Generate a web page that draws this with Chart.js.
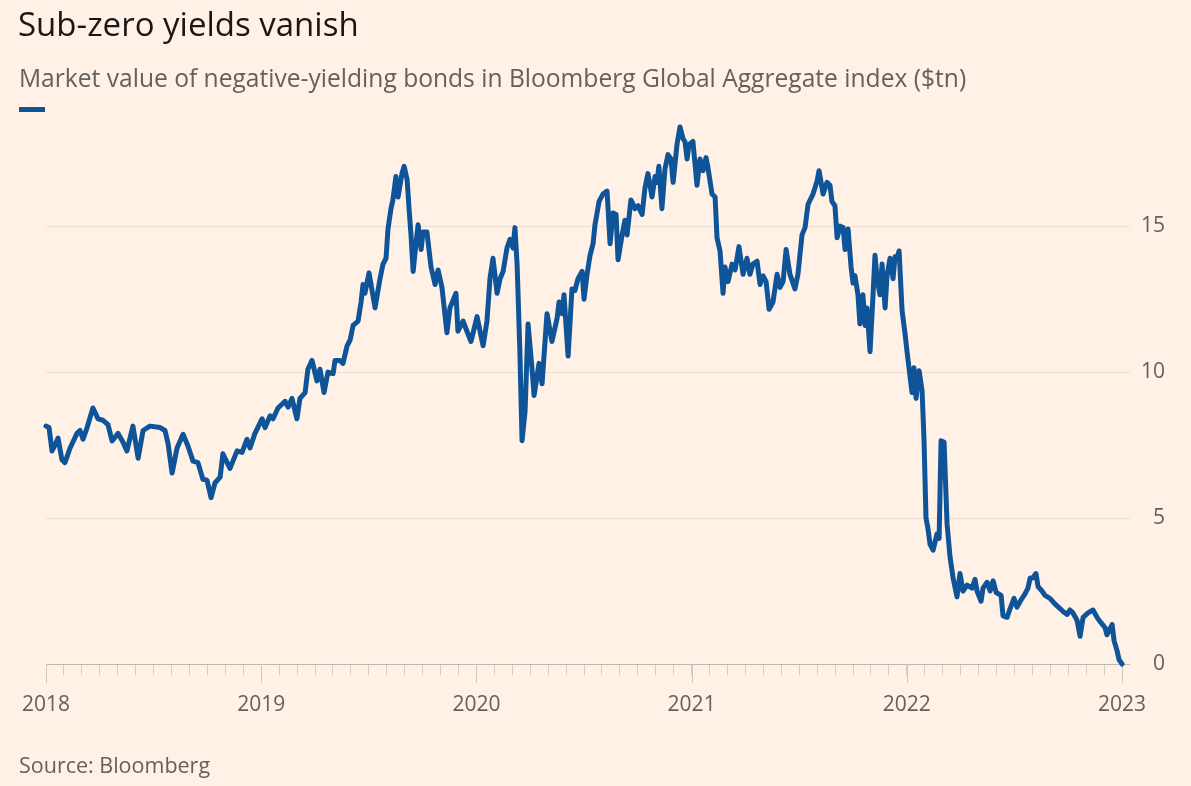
<!DOCTYPE html>
<html>
<head>
<meta charset="utf-8">
<title>Sub-zero yields vanish</title>
<script src="https://cdn.jsdelivr.net/npm/chart.js@4.4.1/dist/chart.umd.min.js"></script>
<style>
    html, body { margin: 0; padding: 0; background: #fff1e5; }
    canvas { display: block; }
</style>
</head>
<body>
<canvas id="bondsChart" width="1191" height="786"></canvas>
<script>
// chart text
const chartTitle = 'Sub-zero yields vanish';
const chartSubtitle = 'Market value of negative-yielding bonds in Bloomberg Global Aggregate index ($tn)';
const chartSource = 'Source: Bloomberg';

// axis ticks
const yearTicks = [2018, 2019, 2020, 2021, 2022, 2023];
const valueTicks = [0, 5, 10, 15];

// dates as decimal years
const dates = [
    2018.000, 2018.014, 2018.028, 2018.042, 2018.056, 2018.074, 2018.088, 2018.112, 2018.144, 2018.158,
    2018.172, 2018.191, 2018.218, 2018.242, 2018.265, 2018.288, 2018.307, 2018.335, 2018.358, 2018.376,
    2018.404, 2018.428, 2018.451, 2018.483, 2018.530, 2018.553, 2018.567, 2018.586, 2018.609, 2018.637,
    2018.660, 2018.683, 2018.706, 2018.729, 2018.748, 2018.767, 2018.785, 2018.809, 2018.822, 2018.855,
    2018.888, 2018.911, 2018.934, 2018.948, 2018.971, 2019.004, 2019.018, 2019.041, 2019.055, 2019.078,
    2019.111, 2019.125, 2019.143, 2019.166, 2019.180, 2019.204, 2019.217, 2019.236, 2019.259, 2019.273,
    2019.292, 2019.310, 2019.334, 2019.343, 2019.366, 2019.380, 2019.399, 2019.413, 2019.427, 2019.450,
    2019.464, 2019.473, 2019.482, 2019.501, 2019.529, 2019.552, 2019.566, 2019.580, 2019.589, 2019.603,
    2019.612, 2019.626, 2019.636, 2019.654, 2019.664, 2019.678, 2019.687, 2019.696, 2019.706, 2019.719,
    2019.729, 2019.743, 2019.752, 2019.770, 2019.789, 2019.808, 2019.822, 2019.840, 2019.863, 2019.877,
    2019.905, 2019.914, 2019.938, 2019.956, 2019.975, 2020.003, 2020.031, 2020.049, 2020.063, 2020.077,
    2020.096, 2020.110, 2020.124, 2020.142, 2020.156, 2020.170, 2020.179, 2020.189, 2020.202, 2020.212,
    2020.226, 2020.240, 2020.258, 2020.268, 2020.291, 2020.305, 2020.328, 2020.351, 2020.375, 2020.384,
    2020.398, 2020.407, 2020.426, 2020.444, 2020.458, 2020.472, 2020.491, 2020.500, 2020.514, 2020.528,
    2020.542, 2020.551, 2020.570, 2020.588, 2020.607, 2020.621, 2020.635, 2020.649, 2020.658, 2020.677,
    2020.690, 2020.700, 2020.718, 2020.737, 2020.751, 2020.770, 2020.783, 2020.797, 2020.816, 2020.830,
    2020.839, 2020.848, 2020.862, 2020.876, 2020.890, 2020.904, 2020.914, 2020.932, 2020.946, 2020.960,
    2020.969, 2020.979, 2020.988, 2021.006, 2021.025, 2021.039, 2021.053, 2021.067, 2021.076, 2021.095,
    2021.109, 2021.118, 2021.132, 2021.146, 2021.155, 2021.169, 2021.188, 2021.202, 2021.220, 2021.239,
    2021.257, 2021.271, 2021.285, 2021.304, 2021.318, 2021.332, 2021.346, 2021.360, 2021.378, 2021.397,
    2021.411, 2021.425, 2021.439, 2021.457, 2021.480, 2021.494, 2021.513, 2021.527, 2021.541, 2021.564,
    2021.583, 2021.592, 2021.611, 2021.629, 2021.643, 2021.652, 2021.666, 2021.676, 2021.690, 2021.704,
    2021.713, 2021.727, 2021.741, 2021.750, 2021.759, 2021.773, 2021.782, 2021.796, 2021.806, 2021.815,
    2021.829, 2021.843, 2021.852, 2021.862, 2021.875, 2021.885, 2021.899, 2021.908, 2021.922, 2021.936,
    2021.945, 2021.954, 2021.964, 2021.978, 2021.992, 2022.001, 2022.010, 2022.024, 2022.033, 2022.043,
    2022.057, 2022.071, 2022.080, 2022.089, 2022.098, 2022.108, 2022.122, 2022.140, 2022.150, 2022.159,
    2022.173, 2022.187, 2022.201, 2022.215, 2022.233, 2022.247, 2022.261, 2022.280, 2022.303, 2022.317,
    2022.326, 2022.345, 2022.354, 2022.373, 2022.387, 2022.401, 2022.415, 2022.438, 2022.447, 2022.466,
    2022.480, 2022.498, 2022.512, 2022.531, 2022.549, 2022.563, 2022.573, 2022.586, 2022.600, 2022.610,
    2022.628, 2022.642, 2022.665, 2022.689, 2022.712, 2022.726, 2022.745, 2022.758, 2022.772, 2022.791,
    2022.805, 2022.819, 2022.842, 2022.865, 2022.884, 2022.898, 2022.921, 2022.930, 2022.954, 2022.963,
    2022.977, 2022.986, 2023.000
];

// market value of negative-yielding bonds, $tn
const marketValue = [
    8.15, 8.10, 7.30, 7.50, 7.74, 7.00, 6.90, 7.40, 7.90, 8.00,
    7.70, 8.10, 8.77, 8.40, 8.35, 8.20, 7.64, 7.90, 7.60, 7.30,
    8.15, 7.05, 8.00, 8.15, 8.10, 8.00, 7.56, 6.54, 7.40, 7.87,
    7.46, 6.95, 6.90, 6.33, 6.30, 5.70, 6.20, 6.40, 7.20, 6.70,
    7.30, 7.25, 7.70, 7.40, 7.90, 8.40, 8.10, 8.50, 8.40, 8.77,
    9.00, 8.80, 9.10, 8.40, 9.10, 9.30, 10.10, 10.40, 9.70, 10.10,
    9.30, 10.00, 9.95, 10.40, 10.40, 10.30, 10.90, 11.10, 11.60, 11.75,
    12.40, 13.00, 12.70, 13.40, 12.20, 13.20, 13.70, 13.90, 14.90, 15.60,
    15.90, 16.70, 16.00, 16.80, 17.05, 16.60, 15.60, 14.70, 13.45, 14.40,
    15.05, 14.20, 14.80, 14.80, 13.60, 13.00, 13.50, 12.90, 11.35, 12.20,
    12.70, 11.40, 11.75, 11.40, 11.05, 11.90, 10.90, 11.75, 13.20, 13.90,
    12.70, 13.20, 13.45, 14.25, 14.55, 14.25, 14.95, 13.70, 10.70, 7.65,
    8.65, 11.65, 10.15, 9.20, 10.30, 9.60, 12.00, 11.05, 11.85, 12.40,
    12.00, 12.65, 10.55, 12.85, 12.80, 13.20, 13.45, 12.50, 13.35, 14.00,
    14.40, 15.05, 15.85, 16.10, 16.20, 14.40, 15.45, 15.40, 13.85, 14.70,
    15.20, 14.70, 15.90, 15.60, 15.70, 15.40, 16.30, 16.80, 16.00, 16.70,
    16.50, 17.05, 15.60, 16.95, 17.45, 17.30, 16.50, 17.80, 18.40, 18.00,
    17.90, 17.30, 17.80, 17.90, 16.40, 17.30, 16.90, 17.35, 17.00, 16.10,
    16.00, 14.60, 14.15, 12.70, 13.60, 13.10, 13.70, 13.50, 14.30, 13.35,
    13.90, 13.35, 13.70, 13.80, 13.00, 13.30, 13.10, 12.15, 12.40, 13.35,
    12.90, 13.10, 14.20, 13.35, 12.85, 13.35, 14.70, 14.95, 15.75, 16.10,
    16.55, 16.90, 16.10, 16.50, 16.40, 15.85, 15.70, 14.60, 15.00, 14.95,
    14.20, 14.90, 13.60, 13.05, 13.30, 12.65, 11.65, 12.65, 11.60, 12.20,
    10.70, 12.65, 14.00, 13.20, 12.65, 13.70, 12.20, 13.30, 13.90, 13.20,
    13.95, 13.90, 14.15, 12.10, 11.30, 10.70, 10.15, 9.30, 10.15, 9.10,
    10.05, 9.35, 7.65, 5.00, 4.65, 4.10, 3.90, 4.45, 4.30, 7.65,
    7.60, 4.80, 3.65, 2.95, 2.30, 3.10, 2.50, 2.70, 2.60, 2.90,
    2.50, 2.15, 2.60, 2.80, 2.50, 2.85, 2.45, 2.35, 1.65, 1.60,
    1.90, 2.25, 1.95, 2.20, 2.40, 2.60, 2.95, 2.95, 3.10, 2.65,
    2.50, 2.35, 2.25, 2.05, 1.90, 1.80, 1.70, 1.85, 1.75, 1.50,
    0.95, 1.60, 1.75, 1.85, 1.60, 1.45, 1.25, 1.00, 1.35, 0.80,
    0.45, 0.15, 0.00
];

const FONT = "'Open Sans', 'Noto Sans', sans-serif";
const PAPER = '#fff1e5';
const LINE_BLUE = '#0f5499';
const MUTED = '#66605c';

// monthly minor ticks between the years
const monthTicks = [];
yearTicks.slice(0, -1).forEach(year => {
    for (let m = 0; m < 12; m++) {
        monthTicks.push(year + m / 12);
    }
});
monthTicks.push(yearTicks[yearTicks.length - 1]);

const ftDecor = {
    id: 'ftDecor',
    beforeDraw(chart) {
        const ctx = chart.ctx;
        ctx.save();
        ctx.fillStyle = PAPER;
        ctx.fillRect(0, 0, chart.width, chart.height);
        ctx.restore();
    },
    beforeDatasetsDraw(chart) {
        // longer tick marks for the year boundaries
        const ctx = chart.ctx;
        const xScale = chart.scales.x;
        const bottom = chart.chartArea.bottom;
        ctx.save();
        ctx.strokeStyle = '#cfc5bb';
        ctx.lineWidth = 1;
        yearTicks.forEach(year => {
            const px = Math.round(xScale.getPixelForValue(year)) + 0.5;
            ctx.beginPath();
            ctx.moveTo(px, bottom);
            ctx.lineTo(px, bottom + 19);
            ctx.stroke();
        });
        ctx.restore();
    },
    afterDraw(chart) {
        const ctx = chart.ctx;
        ctx.save();
        ctx.textAlign = 'left';
        ctx.textBaseline = 'alphabetic';

        ctx.fillStyle = '#1a1817';
        ctx.font = `33px ${FONT}`;
        ctx.fillText(chartTitle, 18, 36);

        ctx.fillStyle = MUTED;
        ctx.font = `24.6px ${FONT}`;
        ctx.fillText(chartSubtitle, 19, 87);

        // legend swatch
        ctx.fillStyle = chart.data.datasets[0].borderColor;
        ctx.fillRect(19, 107, 26, 5);

        ctx.fillStyle = MUTED;
        ctx.font = `21.5px ${FONT}`;
        ctx.fillText(chartSource, 19, 773);
        ctx.restore();
    }
};

const ctx = document.getElementById('bondsChart').getContext('2d');
const bondsChart = new Chart(ctx, {
    type: 'line',
    data: {
        datasets: [{
            label: 'Negative-yielding bonds',
            data: dates.map((d, i) => ({ x: d, y: marketValue[i] })),
            borderColor: LINE_BLUE,
            backgroundColor: LINE_BLUE,
            borderWidth: 5,
            borderJoinStyle: 'round',
            borderCapStyle: 'round',
            pointRadius: 0,
            tension: 0,
            clip: false
        }]
    },
    plugins: [ftDecor],
    options: {
        responsive: false,
        animation: false,
        devicePixelRatio: 1,
        layout: {
            padding: { top: 124, left: 46, right: 26, bottom: 62 }
        },
        plugins: {
            legend: { display: false },
            title: { display: false },
            tooltip: { enabled: false }
        },
        scales: {
            x: {
                type: 'linear',
                min: 2018,
                max: 2023.037,
                afterBuildTicks: scale => {
                    scale.ticks = monthTicks.map(v => ({ value: v }));
                },
                afterFit: scale => {
                    scale.height = 60;
                },
                border: { display: false },
                grid: {
                    drawOnChartArea: false,
                    drawTicks: true,
                    tickLength: 11,
                    color: '#d8cec4',
                    lineWidth: 1
                },
                ticks: {
                    autoSkip: false,
                    maxRotation: 0,
                    padding: 17,
                    color: MUTED,
                    font: { family: FONT, size: 21 },
                    callback: value => Number.isInteger(value) ? String(value) : ''
                }
            },
            y: {
                type: 'linear',
                position: 'right',
                min: 0,
                max: 18.5,
                afterBuildTicks: scale => {
                    scale.ticks = valueTicks.map(v => ({ value: v }));
                },
                afterFit: scale => {
                    scale.width = 35;
                },
                border: { display: false },
                grid: {
                    drawTicks: false,
                    color: c => c.tick && c.tick.value === 0 ? '#c2b8ae' : '#eadfd4',
                    lineWidth: 1
                },
                ticks: {
                    padding: 11,
                    crossAlign: 'far',
                    color: MUTED,
                    font: { family: FONT, size: 21 },
                    callback: value => String(value)
                }
            }
        }
    }
});
</script>
</body>
</html>
